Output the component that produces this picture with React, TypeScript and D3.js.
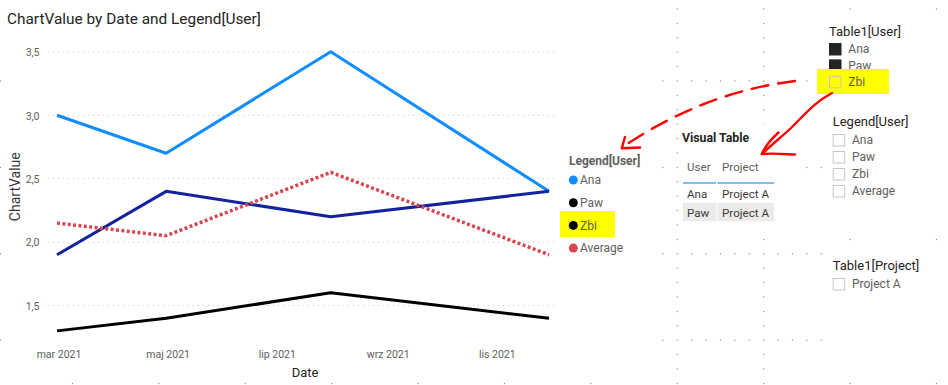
import React, { useEffect, useRef } from 'react';
import * as d3 from 'd3';

// chart data
const dates = ['2021-03-01', '2021-05-01', '2021-08-01', '2021-12-01'];
const anaValues = [3.0, 2.7, 3.5, 2.4];
const pawValues = [1.3, 1.4, 1.6, 1.4];
const zbiValues = [1.9, 2.4, 2.2, 2.4];
const averageValues = [2.15, 2.05, 2.55, 1.9];
const legendUsers = ['Ana', 'Paw', 'Zbi', 'Average'];
const yTickValues = [1.5, 2.0, 2.5, 3.0, 3.5];
const monthsPl = ['sty', 'lut', 'mar', 'kwi', 'maj', 'cze', 'lip', 'sie', 'wrz', 'paź', 'lis', 'gru'];

// side visuals
const tableUsers = ['Ana', 'Paw', 'Zbi'];
const tableUserChecked = [true, true, false];
const tableColumns = ['User', 'Project'];
const tableRows = [['Ana', 'Project A'], ['Paw', 'Project A']];
const projects = ['Project A'];

const FONT = 'Roboto, sans-serif';

const App: React.FC = () => {
  const svgRef = useRef<SVGSVGElement>(null);

  useEffect(() => {
    if (!svgRef.current) return;
    const svg = d3.select(svgRef.current);
    svg.selectAll('*').remove();

    const W = 948, H = 385;
    svg.append('rect').attr('width', W).attr('height', H).attr('fill', '#fff');

    // canvas grid dots
    const dots = svg.append('g').attr('fill', '#9a9a9a');
    const step = 14.4;
    for (let i = 0; i * step < W; i++) {
      const x = 0.5 + i * step;
      for (let j = 0; -5.4 + j * step < H; j++) {
        const y = -5.4 + j * step;
        if ((i - 5) % 6 === 0 || j % 6 === 0) {
          dots.append('circle').attr('cx', x).attr('cy', y).attr('r', 0.75);
        }
      }
    }
    // visual backgrounds covering the grid
    const covers = [[3, 0, 659, 379], [679, 124, 126, 112], [822, 14, 126, 220], [822, 246, 126, 132]];
    svg.append('g').selectAll('rect').data(covers).join('rect')
      .attr('x', d => d[0]).attr('y', d => d[1]).attr('width', d => d[2]).attr('height', d => d[3])
      .attr('fill', '#fff');

    // ---- line chart ----
    const parsed = dates.map(d => d3.timeParse('%Y-%m-%d')(d) as Date);
    const x = d3.scaleTime().domain(d3.extent(parsed) as [Date, Date]).range([57, 549]);
    const y = d3.scaleLinear().domain([1.5, 3.5]).range([305.5, 51.8]);

    svg.append('text').attr('x', 7).attr('y', 23.5)
      .attr('font-family', FONT).attr('font-size', 15.4).attr('fill', '#252423')
      .text('ChartValue by Date and Legend[User]');

    const grid = svg.append('g');
    grid.selectAll('line').data(yTickValues).join('line')
      .attr('x1', 48).attr('x2', 557)
      .attr('y1', d => y(d)).attr('y2', d => y(d))
      .attr('stroke', '#c8c6c4').attr('stroke-width', 1).attr('stroke-dasharray', '1 4');
    grid.selectAll('text').data(yTickValues).join('text')
      .attr('x', 39.5).attr('y', d => y(d) + 4.3).attr('text-anchor', 'end')
      .attr('font-family', FONT).attr('font-size', 10.5).attr('fill', '#605e5c')
      .text(d => d3.format('.1f')(d).replace('.', ','));

    const xTicks = x.ticks(d3.timeMonth.every(2) as d3.TimeInterval);
    svg.append('g').selectAll('text').data(xTicks).join('text')
      .attr('x', d => x(d) + 2).attr('y', 358).attr('text-anchor', 'middle')
      .attr('font-family', FONT).attr('font-size', 10.5).attr('fill', '#605e5c')
      .text(d => `${monthsPl[d.getMonth()]} ${d.getFullYear()}`);

    svg.append('text').attr('transform', 'translate(19.5,186.7) rotate(-90)')
      .attr('text-anchor', 'middle').attr('font-family', FONT).attr('font-size', 14)
      .attr('fill', '#3b3a39').text('ChartValue');
    svg.append('text').attr('x', 305).attr('y', 376.5).attr('text-anchor', 'middle')
      .attr('font-family', FONT).attr('font-size', 13).attr('fill', '#252423').text('Date');

    const series = [
      { name: 'Ana', values: anaValues, color: '#118dff', dash: null, width: 3 },
      { name: 'Paw', values: pawValues, color: '#000000', dash: null, width: 3 },
      { name: 'Zbi', values: zbiValues, color: '#12239e', dash: null, width: 3 },
      { name: 'Average', values: averageValues, color: '#d64550', dash: '3 2.4', width: 3.5 },
    ];
    const line = d3.line<number>().x((_, i) => x(parsed[i])).y(d => y(d));
    svg.append('g').selectAll('path').data(series).join('path')
      .attr('d', d => line(d.values))
      .attr('fill', 'none')
      .attr('stroke', d => d.color)
      .attr('stroke-width', d => d.width)
      .attr('stroke-linejoin', 'round')
      .attr('stroke-dasharray', d => d.dash);

    // legend
    svg.append('rect').attr('x', 560).attr('y', 211).attr('width', 55).attr('height', 26).attr('fill', '#ffff00');
    svg.append('text').attr('x', 569).attr('y', 165)
      .attr('font-family', FONT).attr('font-size', 12).attr('font-weight', 'bold').attr('fill', '#605e5c')
      .text('Legend[User]');
    const legendColors = ['#118dff', '#000000', '#000000', '#d64550'];
    const lg = svg.append('g').selectAll('g').data(legendUsers).join('g')
      .attr('transform', (_, i) => `translate(0,${180 + i * 22.7})`);
    lg.append('circle').attr('cx', 573.3).attr('cy', 0).attr('r', 4.5).attr('fill', (_, i) => legendColors[i]);
    lg.append('text').attr('x', 580).attr('y', 4.3)
      .attr('font-family', FONT).attr('font-size', 12).attr('fill', '#605e5c').text(d => d);

    // ---- Visual Table ----
    svg.append('text').attr('x', 682).attr('y', 142)
      .attr('font-family', FONT).attr('font-size', 12.3).attr('font-weight', 'bold').attr('fill', '#252423')
      .text('Visual Table');
    const colX = [687, 722];
    svg.append('g').selectAll('text').data(tableColumns).join('text')
      .attr('x', (_, i) => colX[i]).attr('y', 171)
      .attr('font-family', FONT).attr('font-size', 11.6).attr('fill', '#605e5c').text(d => d);
    svg.append('line').attr('x1', 683).attr('x2', 716).attr('y1', 183).attr('y2', 183).attr('stroke', '#4ea8f5').attr('stroke-width', 1.5);
    svg.append('line').attr('x1', 717.5).attr('x2', 774).attr('y1', 183).attr('y2', 183).attr('stroke', '#4ea8f5').attr('stroke-width', 1.5);
    tableRows.forEach((row, r) => {
      const cy = 193.3 + r * 19;
      if (r % 2 === 1) {
        svg.append('rect').attr('x', 683).attr('y', cy - 9.5).attr('width', 33.5).attr('height', 18.5).attr('fill', '#edebe9');
        svg.append('rect').attr('x', 717.5).attr('y', cy - 9.5).attr('width', 56.5).attr('height', 18.5).attr('fill', '#edebe9');
      }
      row.forEach((cell, c) => {
        svg.append('text').attr('x', colX[c]).attr('y', cy + 4.2)
          .attr('font-family', FONT).attr('font-size', 11.6).attr('fill', '#3b3a39').text(cell);
      });
    });

    // ---- slicers ----
    const slicerTitle = (t: string, xx: number, yy: number) =>
      svg.append('text').attr('x', xx).attr('y', yy)
        .attr('font-family', FONT).attr('font-size', 13).attr('fill', '#252423').text(t);
    const checkbox = (xx: number, cy: number, filled: boolean) =>
      svg.append('rect').attr('x', xx + 0.5).attr('y', cy - 5.5).attr('width', 11.5).attr('height', 11.5)
        .attr('fill', filled ? '#252423' : 'none').attr('stroke', filled ? '#252423' : '#c8c6c4').attr('stroke-width', 1);
    const itemText = (t: string, xx: number, cy: number) =>
      svg.append('text').attr('x', xx).attr('y', cy + 4.3)
        .attr('font-family', FONT).attr('font-size', 12).attr('fill', '#605e5c').text(t);

    slicerTitle('Table1[User]', 829, 35.5);
    tableUsers.forEach((u, i) => {
      const cy = 49 + i * 16.4;
      if (i === 2) svg.append('rect').attr('x', 817).attr('y', 69).attr('width', 72).attr('height', 25).attr('fill', '#ffff00');
      checkbox(829, cy, tableUserChecked[i]);
      itemText(u, 848.3, cy);
    });

    slicerTitle('Legend[User]', 832.7, 126);
    legendUsers.forEach((u, i) => {
      const cy = 140 + i * 17;
      checkbox(832.7, cy, false);
      itemText(u, 852, cy);
    });

    slicerTitle('Table1[Project]', 832.7, 270);
    projects.forEach((p, i) => {
      const cy = 284 + i * 17;
      checkbox(832.7, cy, false);
      itemText(p, 852, cy);
    });

    // ---- hand-drawn red annotations ----
    const ink = svg.append('g').attr('fill', 'none').attr('stroke', '#ff0000')
      .attr('stroke-width', 2.4).attr('stroke-linecap', 'round').attr('stroke-linejoin', 'round');
    ink.append('path').attr('d', 'M795,81 Q705,92 624,146').attr('stroke-dasharray', '17 10');
    ink.append('path').attr('d', 'M625,137 L621.7,148.3 L640,147.5');
    ink.append('path').attr('d', 'M832,93 C815,102 805,114 793,126 C783,136 772,144 762,154');
    ink.append('path').attr('d', 'M778.5,132.5 C770,140 765,147 761.7,154 C772,153 784,154 795,154.5');
  }, []);

  return (
    <div style={{ position: 'absolute', left: 0, top: 0, width: 948, height: 385 }}>
      <svg ref={svgRef} width={948} height={385} style={{ display: 'block' }} />
    </div>
  );
};

export default App;
